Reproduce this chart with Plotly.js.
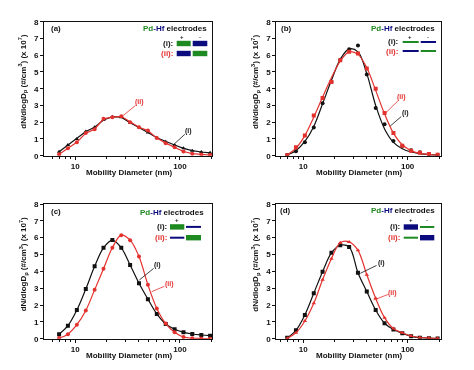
<!DOCTYPE html>
<html><head><meta charset="utf-8">
<script src="https://cdn.plot.ly/plotly-3.0.1.min.js"></script>
<style>html,body{margin:0;padding:0;background:#fff}#c{width:474px;height:370px}
.main-svg{will-change:transform}</style>
</head><body><div id="c"></div>
<script>
// Mobility diameter channels (nm)
const diameter = [7.0, 8.5, 10.35, 12.6, 15.3, 18.6, 22.6, 27.5, 33.4, 40.6, 49.4, 60.1, 73.1, 88.9, 108, 131, 160, 194];
const xTickVals = [10, 100];
const xTickText = ['10', '100'];
const yTickVals = [0,1,2,3,4,5,6,7,8];
// (a) measured
const a_i  = [0.24,0.64,1.0,1.45,1.7,2.13,2.33,2.3,1.97,1.7,1.38,1.07,0.84,0.64,0.44,0.3,0.22,0.17];
const a_ii = [0.08,0.45,0.8,1.35,1.58,2.2,2.3,2.35,2.0,1.7,1.5,1.05,0.75,0.5,0.25,0.12,0.07,0.04];
const b_i      = [0.04,0.26,0.8,1.68,3.13,4.42,5.71,6.35,6.58,4.85,2.85,1.88,0.88,0.58,0.32,0.2,0.1,0.05];
const b_i_fit  = [0.04,0.3,0.85,1.75,3.1,4.5,5.75,6.38,6.2,4.9,3.0,1.6,0.8,0.42,0.22,0.12,0.07,0.04];
const b_ii     = [0.03,0.5,1.2,2.4,3.45,4.4,5.7,6.2,6.1,5.2,4.0,2.55,1.35,0.6,0.3,0.18,0.1,0.05];
const b_ii_fit = [0.05,0.45,1.2,2.3,3.5,4.65,5.65,6.2,6.05,5.25,3.9,2.5,1.35,0.65,0.3,0.14,0.07,0.04];
// (c)
const c_i  = [0.26,0.77,1.7,2.95,4.3,5.4,5.86,5.4,4.38,3.29,2.35,1.47,0.87,0.56,0.38,0.28,0.22,0.18];
const c_ii = [0.04,0.27,0.83,1.68,2.9,4.15,5.4,6.15,5.85,4.88,3.2,1.8,0.9,0.38,0.1,0.03,0.01,0.0];
// (d)
const d_i  = [0.05,0.5,1.41,2.7,3.98,5.1,5.55,5.45,3.92,2.8,1.7,0.92,0.55,0.32,0.14,0.06,0.03,0.01];
const d_ii = [0.02,0.35,1.05,2.1,3.5,4.75,5.7,5.75,5.25,3.8,2.4,1.25,0.6,0.35,0.16,0.07,0.04,0.02];

const panelLabels = ['(a)','(b)','(c)','(d)'];
const seriesLabels = ['(i)','(ii)'];
const legendTitle = ['Pd','-Hf',' electrodes'];
const xTitle = 'Mobility Diameter (nm)';
const yTitle = 'dN/dlogD<sub>p</sub> (#/cm<sup>3</sup>) (x 10<sup>7</sup>)';

const W = 474, H = 370;
const px = x => x / W, py = y => 1 - y / H;
const BLACK = '#111111', RED = '#e3312e', GREEN = '#1f8a22', NAVY = '#0b0b7e';
const FONT = 'Liberation Sans, Arial, sans-serif';

// pointer: [tipX, tipY, labelX, labelY] in page pixels
const panels = [
  {s:'', i:a_i, ii:a_ii, fi:a_i, fii:a_ii, shape:'linear', mi:'triangle-up', mii:'circle',
   L:44, R:212, T:21.7, B:155.7, xr:[0.701, 2.306],
   ptr:[[175,143.3,188.5,131],[121.7,116.7,139.5,102.3]],
   leg:{tx:208.5, ty:28.5, pl:[182,200], py:37.5, lblR:174.5, y1:43.5, y2:53.5,
        items:[[['box',GREEN],['box',NAVY]],[['box',NAVY],['box',GREEN]]], b1:[176.7,190.7], b2:[192.7,207.3]},
   lab:[49,29]},
  {s:'2', i:b_i, ii:b_ii, fi:b_i_fit, fii:b_ii_fit, shape:'spline', mi:'circle', mii:'square',
   L:276.3, R:441, T:21.7, B:155.7, xr:[0.741, 2.320],
   ptr:[[390.3,126,405,113.3],[385.3,113.3,401.5,97.3]],
   leg:{tx:436.5, ty:28.5, pl:[410.3,427.7], py:36.5, lblR:400, y1:42, y2:51,
        items:[[['line',GREEN],['line',NAVY]],[['line',NAVY],['line',GREEN]]], b1:[402.7,418.7], b2:[420.7,436]},
   lab:[278.5,29]},
  {s:'3', i:c_i, ii:c_ii, fi:c_i, fii:c_ii, shape:'spline', mi:'square', mii:'circle',
   L:44, R:212, T:204, B:338.7, xr:[0.701, 2.306],
   ptr:[[139.3,280,157.5,265.3],[151.7,291.7,169,284.3]],
   leg:{tx:206, ty:212, pl:[177,194], py:220.3, lblR:168.5, y1:226.9, y2:237.7,
        items:[[['box',GREEN],['line',NAVY]],[['line',NAVY],['box',GREEN]]], b1:[170,184.3], b2:[186,201]},
   lab:[49,211.7]},
  {s:'4', i:d_i, ii:d_ii, fi:d_i, fii:d_ii, shape:'spline', mi:'square', mii:'triangle-up',
   L:276.3, R:441, T:204, B:338.7, xr:[0.741, 2.320],
   ptr:[[360.3,273.3,381,263.3],[373.7,300,392.5,292.7]],
   leg:{tx:436.5, ty:211, pl:[411,427], py:220.3, lblR:401.5, y1:227, y2:237.7,
        items:[[['box',NAVY],['line',GREEN]],[['line',GREEN],['box',NAVY]]], b1:[403.7,418], b2:[420,434.3]},
   lab:[277.5,211]}
];

const traces = [], shapes = [], annotations = [];
const layout = {
  width: W, height: H, margin:{l:0,r:0,t:0,b:0}, showlegend:false,
  paper_bgcolor:'#fff', plot_bgcolor:'#fff',
  font:{family:FONT, size:8, color:BLACK, weight:'bold'}
};
const tf = (size, color) => ({family:FONT, size:size, weight:'bold', color:color || BLACK});
const note = (x, y, text, font, extra) => Object.assign({xref:'paper', yref:'paper', x:px(x), y:py(y),
  xanchor:'center', yanchor:'middle', showarrow:false, text:text, font:font}, extra || {});

panels.forEach((p, k) => {
  const xn = 'x' + p.s, yn = 'y' + p.s;
  layout['xaxis' + p.s] = {
    type:'log', range:p.xr, domain:[px(p.L), px(p.R)], anchor:yn,
    tickvals:xTickVals, ticktext:xTickText, ticks:'outside', ticklen:3, tickwidth:1, tickcolor:BLACK,
    minor:{ticks:'outside', ticklen:2, dtick:'D1', tickcolor:BLACK},
    showgrid:false, zeroline:false, showline:true, linecolor:BLACK, linewidth:1, mirror:true,
    tickfont:tf(8)
  };
  layout['yaxis' + p.s] = {
    range:[0,8], domain:[py(p.B), py(p.T)], anchor:xn,
    tickvals:yTickVals, ticks:'outside', ticklen:3, tickwidth:1, tickcolor:BLACK,
    showgrid:false, zeroline:false, showline:true, linecolor:BLACK, linewidth:1, mirror:true,
    tickfont:tf(8)
  };
  [[p.fi, p.i, BLACK, p.mi], [p.fii, p.ii, RED, p.mii]].forEach(q => {
    traces.push({x:diameter, y:q[0], xaxis:xn, yaxis:yn, mode:'lines',
      line:{color:q[2], width:1.2, shape:p.shape, smoothing:1}});
    traces.push({x:diameter, y:q[1], xaxis:xn, yaxis:yn, mode:'markers',
      marker:{symbol:q[3], size:4, color:q[2]}});
  });

  // series labels with pointer lines
  p.ptr.forEach((a, j) => {
    const col = j ? RED : BLACK;
    const dx = a[2] - a[0], dy = a[3] - a[1], len = Math.hypot(dx, dy), f = (len - 5) / len;
    shapes.push({type:'line', xref:'paper', yref:'paper', x0:px(a[0]), y0:py(a[1]),
      x1:px(a[0] + dx * f), y1:py(a[1] + dy * f), line:{color:col, width:0.8}});
    annotations.push(note(a[2], a[3], seriesLabels[j], tf(7, col)));
  });

  annotations.push(note(p.lab[0], p.lab[1], panelLabels[k], tf(8), {xanchor:'left'}));
  annotations.push(note((p.L+p.R)/2 + 1, p.B + 17, xTitle, tf(8)));
  annotations.push(note(p.L - 21, (p.T+p.B)/2 - 7, yTitle, tf(8), {textangle:-90}));

  // electrode legend
  const g = p.leg;
  annotations.push(note(g.tx, g.ty,
    '<span style="color:'+GREEN+'">'+legendTitle[0]+'</span><span style="color:'+NAVY+'">'+legendTitle[1]+'</span>'+legendTitle[2],
    tf(8), {xanchor:'right'}));
  ['+','-'].forEach((s, j) => annotations.push(note(g.pl[j], g.py, s, tf(6))));
  [g.y1, g.y2].forEach((yy, j) => {
    annotations.push(note(g.lblR, yy, seriesLabels[j]+':', tf(8, j ? RED : BLACK), {xanchor:'right'}));
    g.items[j].forEach((it, m) => {
      const b = m ? g.b2 : g.b1;
      if (it[0] === 'box') {
        shapes.push({type:'rect', xref:'paper', yref:'paper', x0:px(b[0]), x1:px(b[1]),
          y0:py(yy+2.7), y1:py(yy-2.7), fillcolor:it[1], line:{width:0}});
      } else {
        shapes.push({type:'line', xref:'paper', yref:'paper', x0:px(b[0]), x1:px(b[1]),
          y0:py(yy), y1:py(yy), line:{color:it[1], width:2}});
      }
    });
  });
});

layout.shapes = shapes;
layout.annotations = annotations;
Plotly.newPlot('c', traces, layout, {staticPlot:true, displayModeBar:false});
</script></body></html>
